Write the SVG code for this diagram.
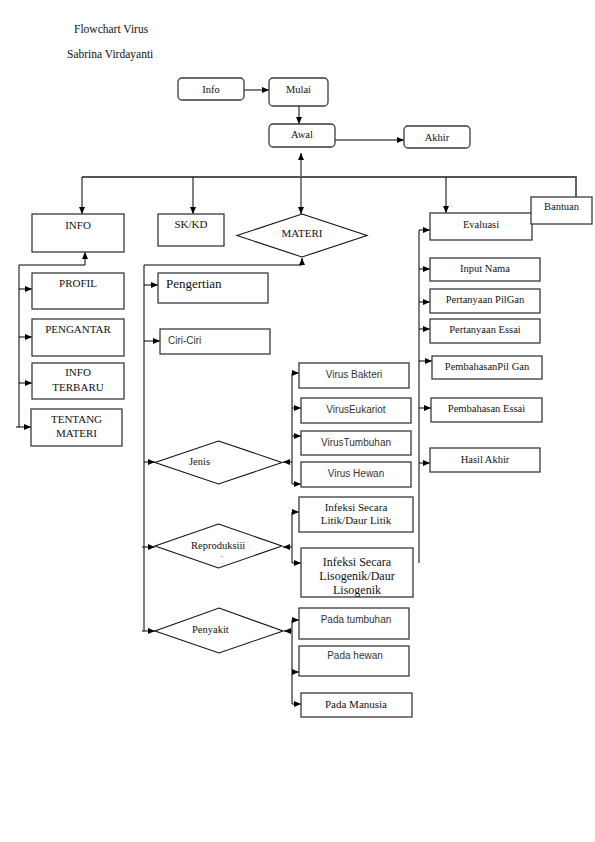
<svg xmlns="http://www.w3.org/2000/svg" width="595" height="842" viewBox="0 0 595 842">
<defs>
<marker id="ah" markerUnits="userSpaceOnUse" markerWidth="7" markerHeight="7" refX="7" refY="3.5" orient="auto-start-reverse">
<path d="M0,0.5 L7,3.5 L0,6.5 z" fill="#000"/>
</marker>
</defs>
<style>
.box{fill:#fff;stroke:#3a3a3a;stroke-width:1.3}
.dia{fill:#fff;stroke:#111;stroke-width:1.1}
.t{font-family:"Liberation Serif","Times New Roman",serif;font-size:10.5px;fill:#111;text-anchor:middle}
.s{font-family:"Liberation Sans",Arial,sans-serif;font-size:10px;fill:#333;text-anchor:middle}
.c{fill:none;stroke:#000;stroke-width:1}
.a{fill:none;stroke:#000;stroke-width:1;marker-end:url(#ah)}
</style>
<rect width="595" height="842" fill="#fff"/>
<g id="title">
<text x="74" y="33" class="t" style="text-anchor:start;font-size:11.5px">Flowchart Virus</text>
<text x="67" y="58" class="t" style="text-anchor:start;font-size:11.5px">Sabrina Virdayanti</text>
</g>
<g id="connectors">
<path class="a" d="M244,90 H269"/>
<path class="a" d="M299,106 V124"/>
<path class="a" d="M335,140 H404"/>
<path class="a" d="M301,153 V214" style="marker-start:url(#ah)"/>
<path d="M82,177 H576 V197" fill="none" stroke="#555" stroke-width="1.8"/>
<path class="a" d="M82,177 V214"/>
<path class="a" d="M193,177 V214"/>
<path class="a" d="M446,177 V213"/>
<path class="a" d="M19,427 V265 H85 V252"/>
<path class="a" d="M19,289 H32"/>
<path class="a" d="M19,337 H32"/>
<path class="a" d="M19,383 H32"/>
<path class="a" d="M16,427 H31"/>
<path class="a" d="M144,631 V265 H302 V258"/>
<path class="a" d="M144,285 H158"/>
<path class="a" d="M144,341 H160"/>
<path class="a" d="M144,462 H155"/>
<path class="a" d="M142,547 H155"/>
<path class="a" d="M142,631 H155"/>
<path class="c" d="M292,373 V484"/>
<path class="a" d="M292,462 H283"/>
<path class="a" d="M292,373 H299"/>
<path class="a" d="M292,408 H301"/>
<path class="a" d="M292,436 H301"/>
<path class="a" d="M292,484 H301"/>
<path class="c" d="M292,512 V563"/>
<path class="a" d="M292,547 H283"/>
<path class="a" d="M292,512 H299"/>
<path class="a" d="M292,563 H301"/>
<path class="c" d="M292,620 V704"/>
<path class="a" d="M292,631 H284"/>
<path class="a" d="M292,620 H299"/>
<path class="a" d="M292,672 H299"/>
<path class="a" d="M292,704 H301"/>
<path class="c" d="M419,230 V563"/>
<path class="a" d="M419,230 H430"/>
<path class="a" d="M419,269 H430"/>
<path class="a" d="M419,302 H430"/>
<path class="a" d="M419,329 H430"/>
<path class="a" d="M419,361 H432"/>
<path class="a" d="M419,408 H431"/>
<path class="a" d="M419,463 H430"/>
</g>
<g id="info-top"><rect class="box" x="178" y="78" width="66" height="22" rx="4"/><text class="t" x="211" y="93">Info</text></g>
<g id="mulai"><rect class="box" x="269" y="78" width="59" height="28" rx="4"/><text class="t" x="298.5" y="93">Mulai</text></g>
<g id="awal"><rect class="box" x="269" y="124" width="66" height="23" rx="4"/><text class="t" x="302" y="138">Awal</text></g>
<g id="akhir"><rect class="box" x="404" y="126" width="66" height="22" rx="4"/><text class="t" x="437" y="141">Akhir</text></g>
<g id="info"><rect class="box" x="32" y="214" width="92" height="38"/><text class="t" style="font-size:11px" x="78" y="229">INFO</text></g>
<g id="skkd"><rect class="box" x="158" y="214" width="66" height="32"/><text class="t" style="font-size:11px" x="191" y="228">SK/KD</text></g>
<g id="materi"><polygon class="dia" points="302,214 367,235.5 302,257 237,235.5"/><text class="t" style="font-size:11px" x="302" y="237">MATERI</text></g>
<g id="evaluasi"><rect class="box" x="430" y="213" width="102" height="27"/><text class="t" x="481" y="228">Evaluasi</text></g>
<g id="bantuan"><rect class="box" x="531" y="197" width="61" height="27"/><text class="t" x="561.5" y="210">Bantuan</text></g>
<g id="profil"><rect class="box" x="32" y="273" width="92" height="36"/><text class="t" style="font-size:11px" x="78" y="287">PROFIL</text></g>
<g id="pengantar"><rect class="box" x="32" y="319" width="92" height="37"/><text class="t" style="font-size:11px" x="78" y="333">PENGANTAR</text></g>
<g id="info-terbaru"><rect class="box" x="32" y="363" width="92" height="36"/><text class="t" style="font-size:11px" x="78" y="376">INFO</text><text class="t" style="font-size:11px" x="78" y="391">TERBARU</text></g>
<g id="tentang-materi"><rect class="box" x="31" y="409" width="91" height="37"/><text class="t" style="font-size:11px" x="76.5" y="423">TENTANG</text><text class="t" style="font-size:11px" x="76.5" y="437">MATERI</text></g>
<g id="pengertian"><rect class="box" x="158" y="273" width="110" height="30"/><text class="t" style="text-anchor:start;font-size:13px" x="166" y="288">Pengertian</text></g>
<g id="ciri"><rect class="box" x="160" y="329" width="110" height="25"/><text class="s" style="text-anchor:start" x="168" y="344">Ciri-Ciri</text></g>
<g id="jenis"><polygon class="dia" points="218.5,441 282,462.5 218.5,484 155,462.5"/><text class="t" style="text-anchor:start" x="189" y="465">Jenis</text></g>
<g id="virus-bakteri"><rect class="box" x="299" y="363" width="110" height="25"/><text class="s" x="354" y="378">Virus Bakteri</text></g>
<g id="virus-eukariot"><rect class="box" x="301" y="398" width="110" height="25"/><text class="s" x="356" y="413">VirusEukariot</text></g>
<g id="virus-tumbuhan"><rect class="box" x="301" y="431" width="110" height="24"/><text class="s" x="356" y="446">VirusTumbuhan</text></g>
<g id="virus-hewan"><rect class="box" x="301" y="462" width="110" height="25"/><text class="s" x="356" y="477">Virus Hewan</text></g>
<g id="reproduksi"><polygon class="dia" points="218.5,524 282,546 218.5,568 155,546"/><text class="t" style="text-anchor:start" x="191" y="549">Reproduksiii</text><text class="t" style="font-size:8px" x="222" y="557">.</text></g>
<g id="litik"><rect class="box" x="299" y="497" width="114" height="35"/><text class="t" style="font-size:11px" x="356" y="511">Infeksi Secara</text><text class="t" style="font-size:11px" x="356" y="523.5">Litik/Daur Litik</text></g>
<g id="lisogenik"><rect class="box" x="301" y="548" width="112" height="49"/><text class="t" style="font-size:12px" x="357" y="566">Infeksi Secara</text><text class="t" style="font-size:12px" x="357" y="580">Lisogenik/Daur</text><text class="t" style="font-size:12px" x="357" y="594">Lisogenik</text></g>
<g id="penyakit"><polygon class="dia" points="219,608 283,631 219,653 155,631"/><text class="t" style="text-anchor:start" x="192" y="633">Penyakit</text></g>
<g id="pada-tumbuhan"><rect class="box" x="299" y="608" width="110" height="31"/><text class="s" x="356" y="623">Pada tumbuhan</text></g>
<g id="pada-hewan"><rect class="box" x="299" y="646" width="110" height="30"/><text class="s" x="355" y="659">Pada hewan</text></g>
<g id="pada-manusia"><rect class="box" x="301" y="693" width="111" height="24"/><text class="t" style="font-size:11px" x="356" y="708">Pada Manusia</text></g>
<g id="input-nama"><rect class="box" x="430" y="258" width="110" height="23"/><text class="t" x="485" y="272">Input Nama</text></g>
<g id="pilgan"><rect class="box" x="430" y="289" width="110" height="24"/><text class="t" x="485" y="303">Pertanyaan PilGan</text></g>
<g id="essai"><rect class="box" x="430" y="319" width="110" height="24"/><text class="t" x="485" y="333">Pertanyaan Essai</text></g>
<g id="pembahasan-pilgan"><rect class="box" x="432" y="356" width="110" height="23"/><text class="t" x="487" y="370">PembahasanPil Gan</text></g>
<g id="pembahasan-essai"><rect class="box" x="431" y="398" width="111" height="24"/><text class="t" x="486.5" y="412">Pembahasan Essai</text></g>
<g id="hasil-akhir"><rect class="box" x="430" y="448" width="110" height="24"/><text class="t" x="485" y="463">Hasil Akhir</text></g>
</svg>
